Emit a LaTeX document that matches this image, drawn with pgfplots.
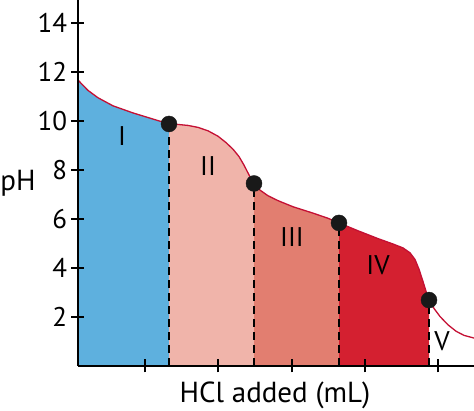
\documentclass[border=0pt]{standalone}
\usepackage{pgfplots}
\pgfplotsset{compat=1.18}
\usepackage{fontspec}
\setmainfont{PT Sans}
\definecolor{cI}{RGB}{94,176,222}
\definecolor{cII}{RGB}{240,180,170}
\definecolor{cIII}{RGB}{226,126,112}
\definecolor{cIV}{RGB}{212,32,48}
\definecolor{curve}{RGB}{196,16,52}
\begin{document}
\begin{tikzpicture}[x=1pt,y=1pt]
\begin{axis}[
  at={(0,0)}, anchor=origin,
  scale only axis, width=396pt, height=366pt,
  xmin=0, xmax=396, ymin=0, ymax=14.94,
  axis lines=left,
  axis line style={-, line width=1.5pt, black},
  every tick/.style={black, line width=1.5pt},
  tick align=center, major tick length=13pt,
  xtick={67,140,214,287,360}, xticklabels={},
  ytick={2,4,...,14},
  yticklabel style={font=\fontsize{27}{30}\selectfont, xshift=-1pt},
  /pgf/number format/assume math mode=true,
  clip=false,
  axis on top,
]
\addplot[fill=cI, draw=none] coordinates {(0,11.67) (10,11.25) (20,10.95) (35,10.62) (55,10.33) (75,10.08) (91,9.88)} \closedcycle;
\addplot[fill=cII, draw=none] coordinates {(91,9.88) (100,9.86) (110,9.82) (120,9.74) (130,9.60) (140,9.38) (148,9.12) (155,8.85) (161,8.55) (166,8.20) (171,7.80) (176,7.45)} \closedcycle;
\addplot[fill=cIII, draw=none] coordinates {(176,7.45) (182,7.18) (190,6.95) (200,6.75) (215,6.50) (235,6.24) (250,6.03) (261,5.84)} \closedcycle;
\addplot[fill=cIV, draw=none] coordinates {(261,5.84) (280,5.52) (300,5.20) (315,4.98) (325,4.82) (332,4.62) (337,4.35) (341,3.95) (345,3.45) (348,3.05) (351,2.69)} \closedcycle;
\addplot[curve, line width=1.3pt, line join=round] coordinates {(0,11.67) (10,11.25) (20,10.95) (35,10.62) (55,10.33) (75,10.08) (91,9.88) (100,9.86) (110,9.82) (120,9.74) (130,9.60) (140,9.38) (148,9.12) (155,8.85) (161,8.55) (166,8.20) (171,7.80) (176,7.45) (182,7.18) (190,6.95) (200,6.75) (215,6.50) (235,6.24) (250,6.03) (261,5.84) (280,5.52) (300,5.20) (315,4.98) (325,4.82) (332,4.62) (337,4.35) (341,3.95) (345,3.45) (348,3.05) (351,2.69) (356,2.35) (362,2.02) (370,1.68) (378,1.42) (386,1.25) (396,1.14)};
\addplot[black, line width=1.3pt, dash pattern=on 8pt off 5pt] coordinates {(91,0) (91,9.88)};
\addplot[black, line width=1.3pt, dash pattern=on 8pt off 5pt] coordinates {(176,0) (176,7.45)};
\addplot[black, line width=1.3pt, dash pattern=on 8pt off 5pt] coordinates {(261,0) (261,5.84)};
\addplot[black, line width=1.3pt, dash pattern=on 8pt off 5pt] coordinates {(351,0) (351,2.69)};
\addplot[only marks, mark=*, mark size=8pt, mark options={fill=black!90, draw=black!90}] coordinates {(91,9.88) (176,7.45) (261,5.84) (351,2.69)};
\node[font=\fontsize{27}{30}\selectfont] at (axis cs:44,9.4) {I};
\node[font=\fontsize{27}{30}\selectfont] at (axis cs:130,8.16) {II};
\node[font=\fontsize{27}{30}\selectfont] at (axis cs:214,5.27) {III};
\node[font=\fontsize{27}{30}\selectfont] at (axis cs:300,4.12) {IV};
\node[font=\fontsize{27}{30}\selectfont] at (axis cs:364,1.0) {V};
\node[font=\fontsize{29}{32}\selectfont] at (axis cs:-60,7.45) {pH};
\node[font=\fontsize{29}{32}\selectfont] at (axis cs:197,-1.2) {HCl added (mL)};
\end{axis}
\pgfresetboundingbox
\path[use as bounding box] (-78,-45) rectangle (396,366);
\end{tikzpicture}
\end{document}
